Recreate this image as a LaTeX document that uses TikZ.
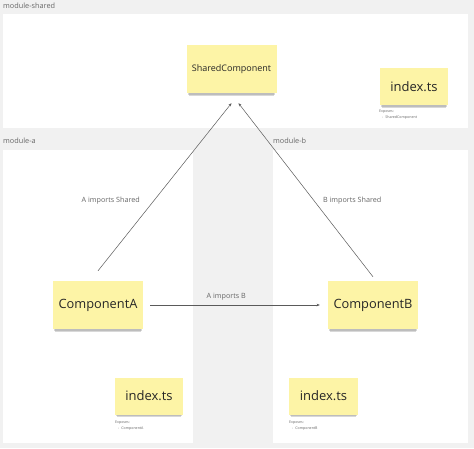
\documentclass[tikz,border=0pt]{standalone}
\usepackage{fontspec}
\setmainfont{Open Sans}
\usetikzlibrary{arrows.meta,shadows}

\definecolor{board}{HTML}{F1F1F1}
\definecolor{sticky}{HTML}{FDF4A6}
\definecolor{ink}{HTML}{262626}
\definecolor{wire}{HTML}{5A5A5A}
\definecolor{caption}{HTML}{666666}

\begin{document}
\begin{tikzpicture}[x=1pt, y=-1pt,
    note/.style={fill=sticky, minimum width=90pt, minimum height=48pt, inner sep=0pt, text=ink,
      drop shadow={shadow xshift=0pt, shadow yshift=-4pt, shadow scale=.95, opacity=.3},
      drop shadow={shadow xshift=0pt, shadow yshift=-2.5pt, shadow scale=.97, opacity=.3}},
    small note/.style={note, minimum width=68pt, minimum height=37pt, font=\fontsize{13}{15}\selectfont},
    module/.style={anchor=west, inner sep=0pt, text=caption, font=\fontsize{7.3}{9}\selectfont},
    link/.style={draw=wire, line width=.5pt, -{Stealth[length=3.2pt,width=2.6pt]}},
    linklabel/.style={text=caption, inner sep=0pt, font=\fontsize{7.2}{9}\selectfont},
    exposes/.style={anchor=north west, inner sep=0pt, align=left, text=caption, font=\fontsize{3.6}{6}\selectfont}]
  \useasboundingbox[fill=board] (0,0) rectangle (474,448);

  \foreach \xa/\ya/\xb/\yb in {3/14/468/128, 3/150/193/443, 273/150/468/443}
    \fill[white] (\xa,\ya) rectangle (\xb,\yb);

  \node[module] (modshared) at (3,6) {module-shared};
  \node[module] (moda) at (3,141) {module-a};
  \node[module] (modb) at (273,141) {module-b};

  \node[note, font=\fontsize{9}{11}\selectfont] (shared) at (231.5,69) {SharedComponent};
  \node[note, font=\fontsize{12.8}{15}\selectfont] (compA) at (98,305) {ComponentA};
  \node[note, font=\fontsize{12.8}{15}\selectfont] (compB) at (373,305) {ComponentB};

  \node[small note] (indexS) at (414,86.5) {index.ts};
  \node[small note] (indexA) at (149,396) {index.ts};
  \node[small note, minimum width=69pt] (indexB) at (323.5,396) {index.ts};

  \node[exposes] (exposesS) at (379,109.5) {Exposes:\\\hspace*{3pt}-\hspace{2pt}SharedComponent};
  \node[exposes] (exposesA) at (115,420.5) {Exposes:\\\hspace*{3pt}-\hspace{2pt}ComponentA};
  \node[exposes] (exposesB) at (289,420.5) {Exposes:\\\hspace*{3pt}-\hspace{2pt}ComponentB};

  \draw[link] ([yshift=10pt]compA.north) -- node[linklabel, pos=.42, left=14pt] {A imports Shared} ([yshift=-10pt]shared.south);
  \draw[link] ([yshift=4pt]compB.north) -- node[linklabel, pos=.44, right=9pt] {B imports Shared} ([xshift=7pt,yshift=-10pt]shared.south);
  \draw[link, shorten <=7pt, shorten >=8pt] (compA.east) -- node[linklabel, pos=.45, above=5pt] {A imports B} (compB.west);
\end{tikzpicture}
\end{document}
